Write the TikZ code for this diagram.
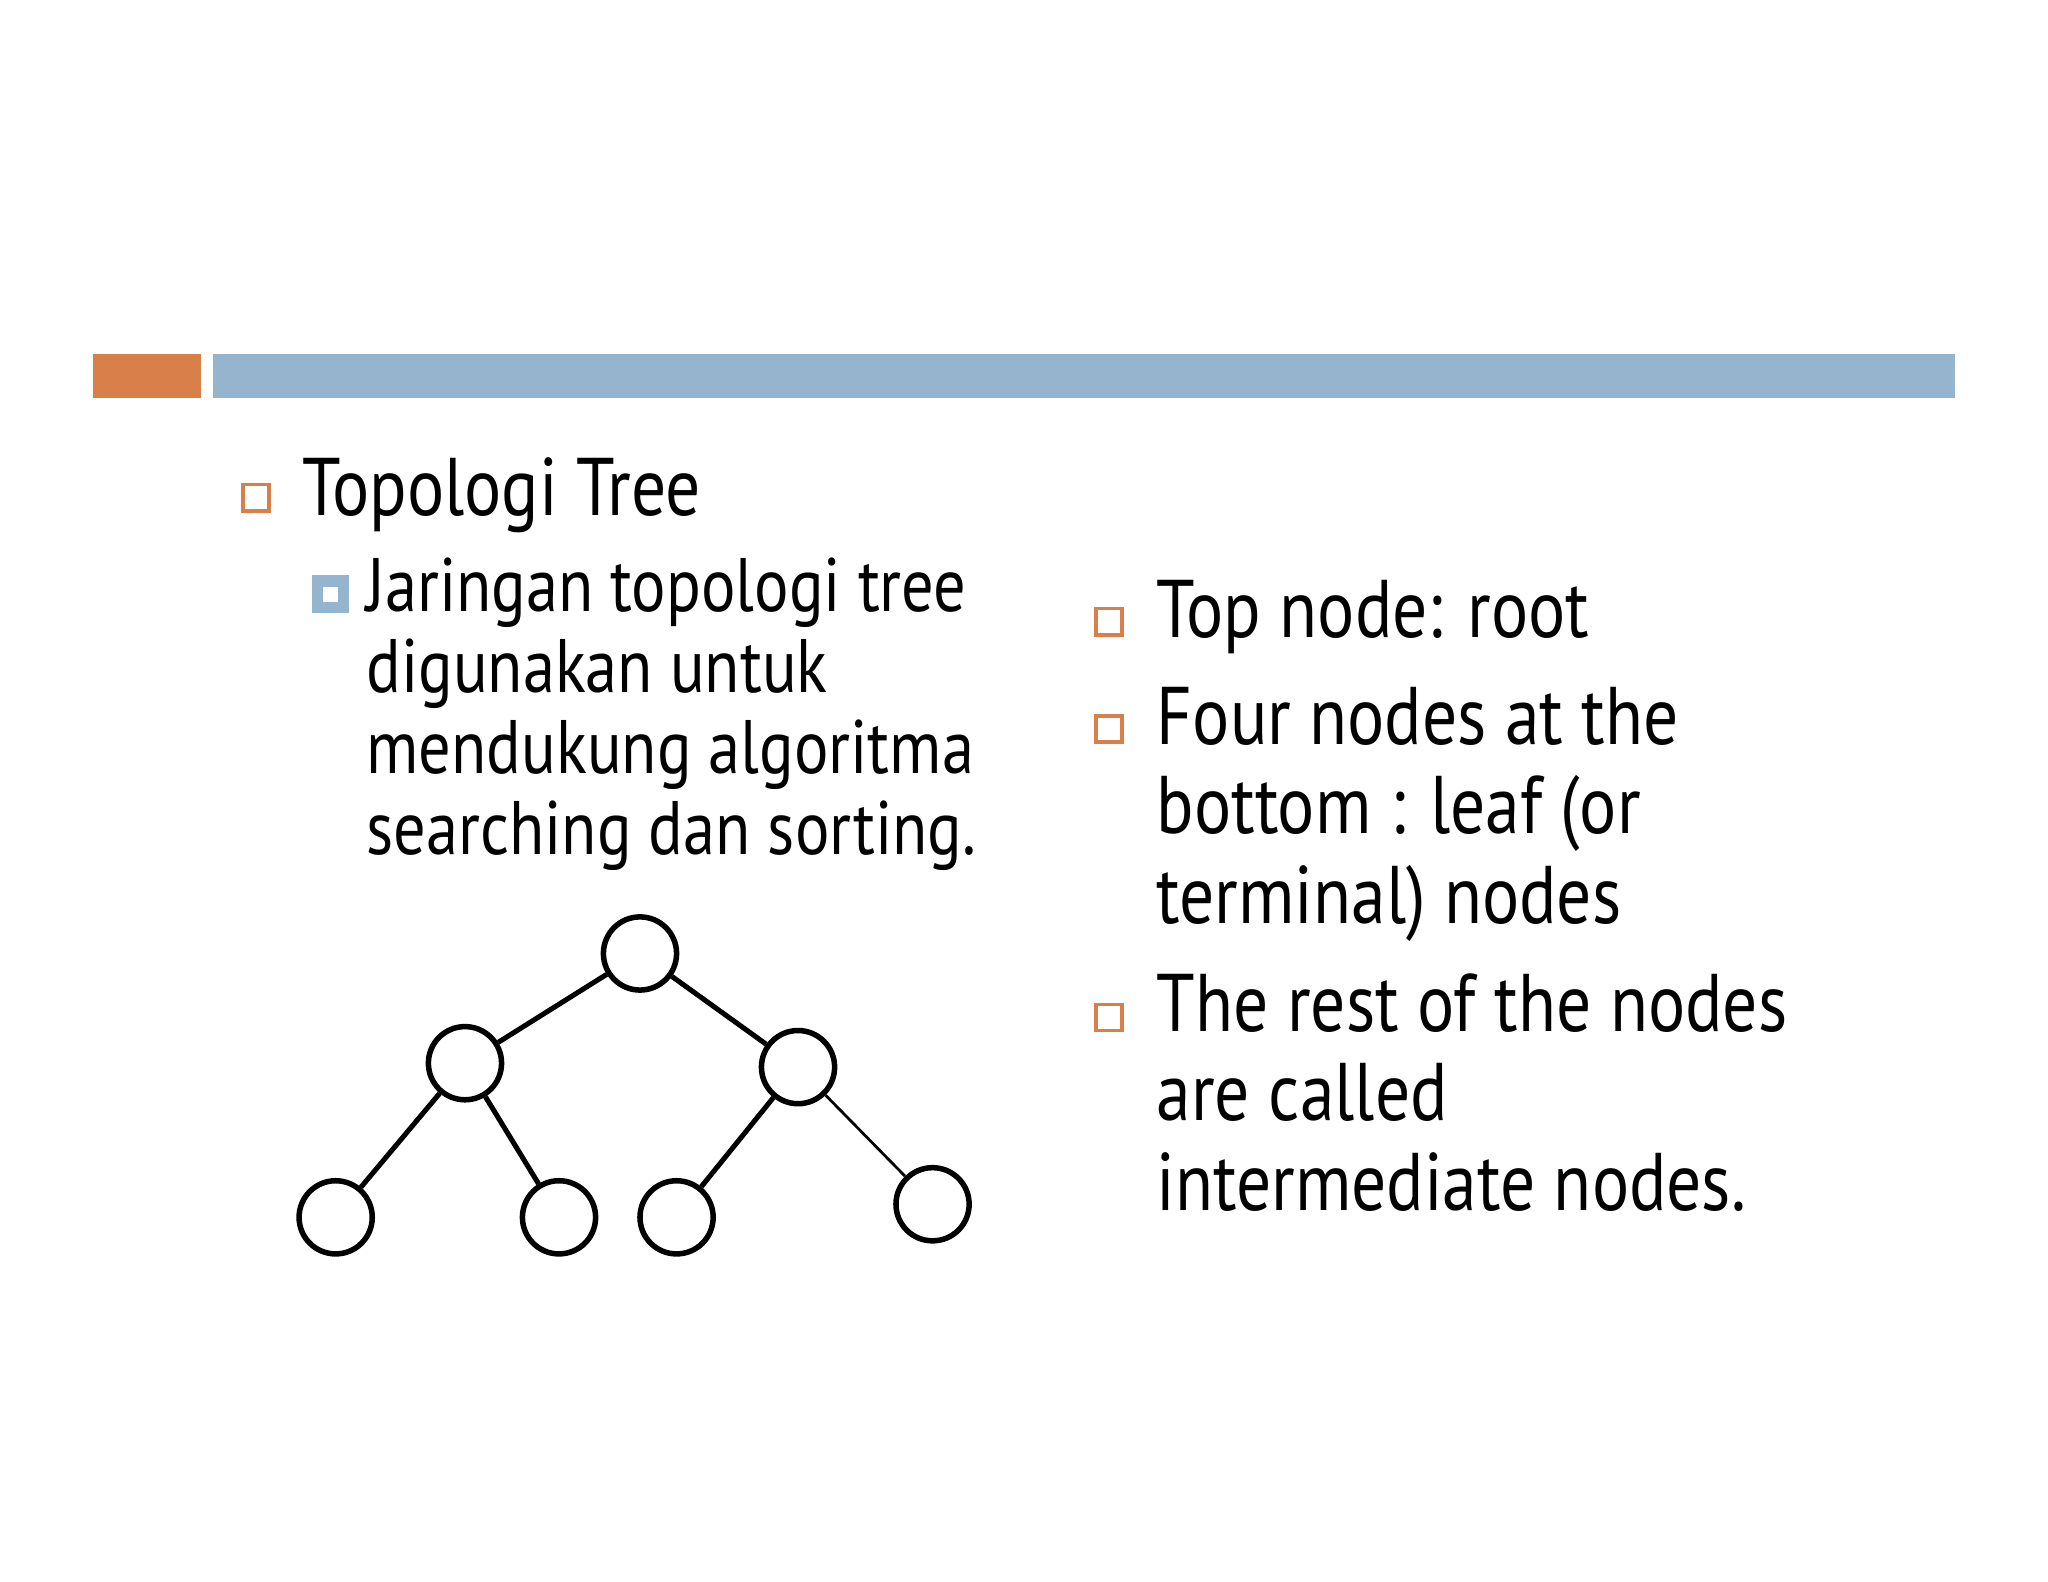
\documentclass[tikz,border=0pt]{standalone}
\usepackage{fontspec}
\setmainfont[FakeStretch=0.85]{PT Sans}
\definecolor{orng}{HTML}{D9804A}
\definecolor{blu}{HTML}{95B4CE}
\tikzset{
 tn/.style={circle,draw,line width=1.2pt,minimum size=0.56cm,inner sep=0pt,fill=white},
 ed/.style={line width=1.1pt},
 txt/.style={anchor=base west,inner sep=0pt,font=\fontsize{16.5}{20}\selectfont},
 txtb/.style={anchor=base west,inner sep=0pt,font=\fontsize{17.8}{22}\selectfont},
 ob/.style={draw=orng,line width=0.8pt,minimum size=0.2cm,inner sep=0pt},
}
\begin{document}
\begin{tikzpicture}[x=0.01cm,y=-0.01cm]
\useasboundingbox (0,0) rectangle (1568,1211);
\fill[orng] (71,271) rectangle (154,305);
\fill[blu] (163,271) rectangle (1497,305);
\node[ob] (b1) at (196,381) {};
\node[txtb] (t1) at (231,395) {Topologi Tree};
\node[draw=blu,fill=white,line width=2.5pt,minimum size=0.2cm,inner sep=0pt] (b2) at (253,455) {};
\node[txt] (l1) at (280,468) {Jaringan topologi tree};
\node[txt] (l2) at (280,530) {digunakan untuk};
\node[txt] (l3) at (280,592) {mendukung algoritma};
\node[txt] (l4) at (280,654) {searching dan sorting.};
\node[ob] (r1) at (849,476) {};
\node[ob] (r2) at (849,558) {};
\node[ob] (r3) at (849,779) {};
\node[txtb] at (885,488) {Top node: root};
\node[txtb] at (885,570) {Four nodes at the};
\node[txtb] at (885,638) {bottom : leaf (or};
\node[txtb] at (885,707) {terminal) nodes};
\node[txtb] at (885,790) {The rest of the nodes};
\node[txtb] at (885,858) {are called};
\node[txtb] at (885,927) {intermediate nodes.};
\node[tn] (n0) at (490,730) {};
\node[tn] (n1) at (356,814) {};
\node[tn] (n2) at (611,817) {};
\node[tn] (n3) at (257,932) {};
\node[tn] (n4) at (428,932) {};
\node[tn] (n5) at (518,932) {};
\node[tn] (n6) at (714,922) {};
\draw[ed] (n0)--(n1); \draw[ed] (n0)--(n2);
\draw[ed] (n1)--(n3); \draw[ed] (n1)--(n4);
\draw[ed] (n2)--(n5); \draw[line width=0.6pt] (n2)--(n6);
\end{tikzpicture}
\end{document}
